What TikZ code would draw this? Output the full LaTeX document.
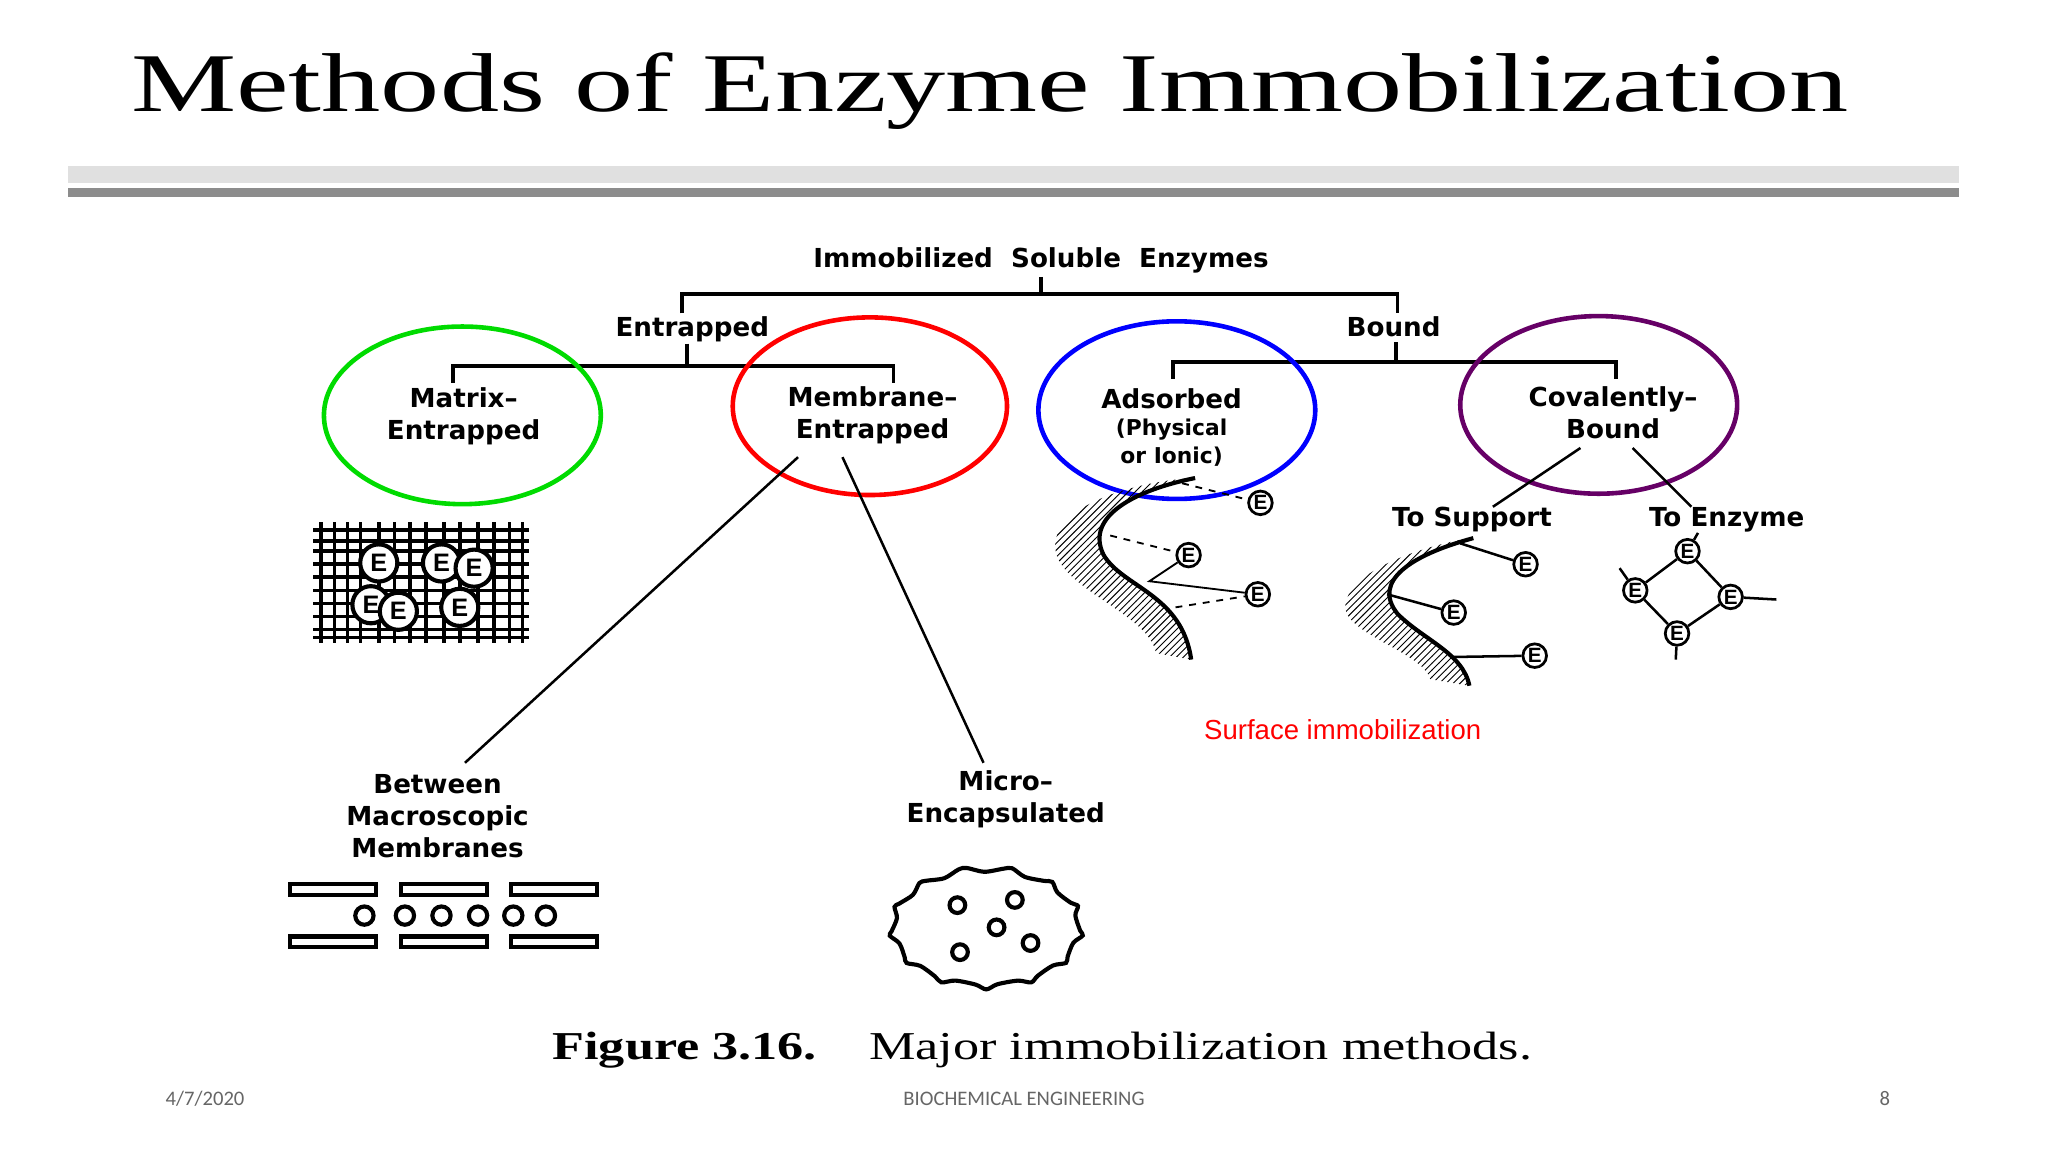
\documentclass[tikz,border=0pt]{standalone}
\usepackage{fontspec}
\setsansfont{Liberation Sans}
\newfontfamily\bodyfont{DejaVu Sans}[Scale=0.95]
\newfontfamily\footfont{Carlito}
\newfontfamily\titlefont{Liberation Serif}
\usetikzlibrary{patterns}
\begin{document}
\begin{tikzpicture}[x=0.02cm,y=-0.02cm,
 lab/.style={font=\bodyfont\bfseries\fontsize{12}{14}\selectfont,align=center,inner sep=1pt},
 ee/.style={circle,draw,line width=1.2pt,inner sep=0.6pt,font=\sffamily\bfseries\fontsize{9}{9}\selectfont},
 bigee/.style={ee,line width=1.8pt,inner sep=2pt,font=\sffamily\bfseries\fontsize{11}{11}\selectfont},
 tree/.style={line width=1.6pt},
 conn/.style={line width=1.1pt},
 ring/.style={line width=2pt},
 foot/.style={font=\footfont\fontsize{9}{10}\selectfont,text=black!60}]
\useasboundingbox (0,0) rectangle (1568,882);
\fill[white] (0,0) rectangle (1568,882);
% title
\node (title) at (758,70) {\resizebox{26.3cm}{0.9cm}{\titlefont\fontsize{40}{44}\selectfont Methods of Enzyme Immobilization}};
\fill[black!12] (52,127) rectangle (1500,140);
\fill[black!45] (52,144) rectangle (1500,151);
% tree
\node[lab] (root) at (797,199) {Immobilized\ \ Soluble\ \ Enzymes};
\node[lab] (ent) at (530,252) {Entrapped};
\node[lab] (bnd) at (1067,250) {Bound};
\draw[tree] (797,212) -- (797,225) (522,240) -- (522,225) -- (1070,225) -- (1070,240);
\draw[tree] (526,263) -- (526,280) (347,293) -- (347,280) -- (684,280) -- (684,293);
\draw[tree] (1069,262) -- (1069,277) (898,290) -- (898,277) -- (1237,277) -- (1237,290);
\node[lab] (mat) at (355,319) {Matrix–\\Entrapped};
\node[lab] (mem) at (668,318) {Membrane–\\Entrapped};
\node[lab,font=\bodyfont\bfseries\fontsize{12}{12}\selectfont] (ads) at (897,327) {Adsorbed\\{\fontsize{10}{11}\selectfont (Physical}\\{\fontsize{10}{11}\selectfont or Ionic)}};
\node[lab] (cov) at (1235,316) {Covalently–\\Bound};
\draw[ring,green!80!black!70!green] (354,318) ellipse (106 and 68);
\draw[ring,red] (666,311) ellipse (105 and 68);
\draw[ring,blue] (901,314) ellipse (106 and 68);
\draw[ring,violet!80!black] (1224,310) ellipse (106 and 68);
\node[lab] (betw) at (335,625) {Between\\Macroscopic\\Membranes};
\node[lab] (micro) at (770,612) {Micro–\\Encapsulated};
\draw[conn] (611,350) -- (356,584);
\draw[conn] (645,350) -- (753,584);
\node[lab] (tosup) at (1127,398) {To Support};
\node[lab] (toenz) at (1322,398) {To Enzyme};
\draw[conn] (1210,343) -- (1143,388);
\draw[conn] (1250,343) -- (1295,388);
% matrix
\begin{scope}[line width=1.6pt]
\foreach \y in {406,414,422,432,442,452,462,472,482,488} \draw (240,\y) -- (405,\y);
\foreach \x in {246,256,266,276,290,302,314,326,340,352,366,378,390,400} \draw (\x,400) -- (\x,492);
\end{scope}
\foreach \p in {(290,431),(338,431),(363,435),(284,463),(305,468),(352,465)}
 \node[bigee,fill=white] at \p {E};
% membranes
\foreach \a/\b in {222/288,307/373,391/457}{
 \draw[line width=1.8pt] (\a,677) rectangle (\b,685);
 \draw[line width=1.8pt] (\a,717) rectangle (\b,725);}
\foreach \x in {279,310,338,366,393,418} \draw[line width=1.8pt] (\x,701) circle (7);
% microcapsule
\draw[line width=1.8pt] plot[smooth cycle,samples=40,domain=0:350,variable=\t]
 ({755+72*cos(\t)+3*sin(12*\t)},{710+45*sin(\t)+2.5*cos(12*\t)});
\foreach \p in {(733,693),(777,689),(763,710),(735,729),(789,722)} \draw[line width=1.8pt] \p circle (6);
% adsorbed
\fill[pattern=north east lines,pattern color=black] (915,366) .. controls (870,375) and (830,395) .. (845,425) .. controls (860,450) and (905,455) .. (912,505)
 -- (885,500) .. controls (880,470) and (810,450) .. (808,420) .. controls (805,390) and (860,370) .. (912,366) -- cycle;
\draw[line width=1.8pt] (915,366) .. controls (870,375) and (830,395) .. (845,425) .. controls (860,450) and (905,455) .. (912,505);
\node[ee] (a1) at (965,385) {E};
\node[ee] (a2) at (910,425) {E};
\node[ee] (a3) at (963,455) {E};
\coordinate (s1) at (905,370);
\coordinate (s2) at (850,410);
\coordinate (s3) at (900,465);
\draw[dashed,thick] (s1) -- (a1) (s2) -- (a2) (s3) -- (a3);
\draw[thick] (a2) -- (880,445) -- (a3);
% covalent support
\fill[pattern=north east lines,pattern color=black] (1128,412) .. controls (1080,425) and (1050,445) .. (1070,470) .. controls (1090,490) and (1120,500) .. (1125,525)
 -- (1095,520) .. controls (1090,500) and (1030,485) .. (1030,465) .. controls (1030,440) and (1080,420) .. (1125,412) -- cycle;
\draw[line width=1.8pt] (1128,412) .. controls (1080,425) and (1050,445) .. (1070,470) .. controls (1090,490) and (1120,500) .. (1125,525);
\node[ee] (c1) at (1168,432) {E};
\node[ee] (c2) at (1113,469) {E};
\node[ee] (c3) at (1175,502) {E};
\coordinate (t1) at (1118,416);
\coordinate (t2) at (1062,455);
\coordinate (t3) at (1112,503);
\draw[conn] (t1) -- (c1) (t2) -- (c2) (t3) -- (c3);
% enzyme chain
\node[ee] (e1) at (1292,422) {E};
\node[ee] (e2) at (1252,452) {E};
\node[ee] (e3) at (1325,457) {E};
\node[ee] (e4) at (1284,485) {E};
\draw[conn] (e1) -- (e2) -- (e4) -- (e3) -- (e1);
\coordinate (f1) at (1240,435); \coordinate (f2) at (1360,459); \coordinate (f3) at (1283,505); \coordinate (f4) at (1300,408);
\draw[conn] (e2) -- (f1) (e3) -- (f2) (e4) -- (f3) (e1) -- (f4);
\node[text=red,font=\sffamily\fontsize{12}{14}\selectfont] (surf) at (1028,559) {Surface immobilization};
\node (fig) at (798,804) {\resizebox{15cm}{0.42cm}{\titlefont\fontsize{19}{22}\selectfont \textbf{Figure 3.16.}\quad Major immobilization methods.}};
\node[foot] (date) at (157,841) {4/7/2020};
\node[foot] (eng) at (784,841) {BIOCHEMICAL ENGINEERING};
\node[foot] (pg) at (1443,841) {8};
\end{tikzpicture}
\end{document}
